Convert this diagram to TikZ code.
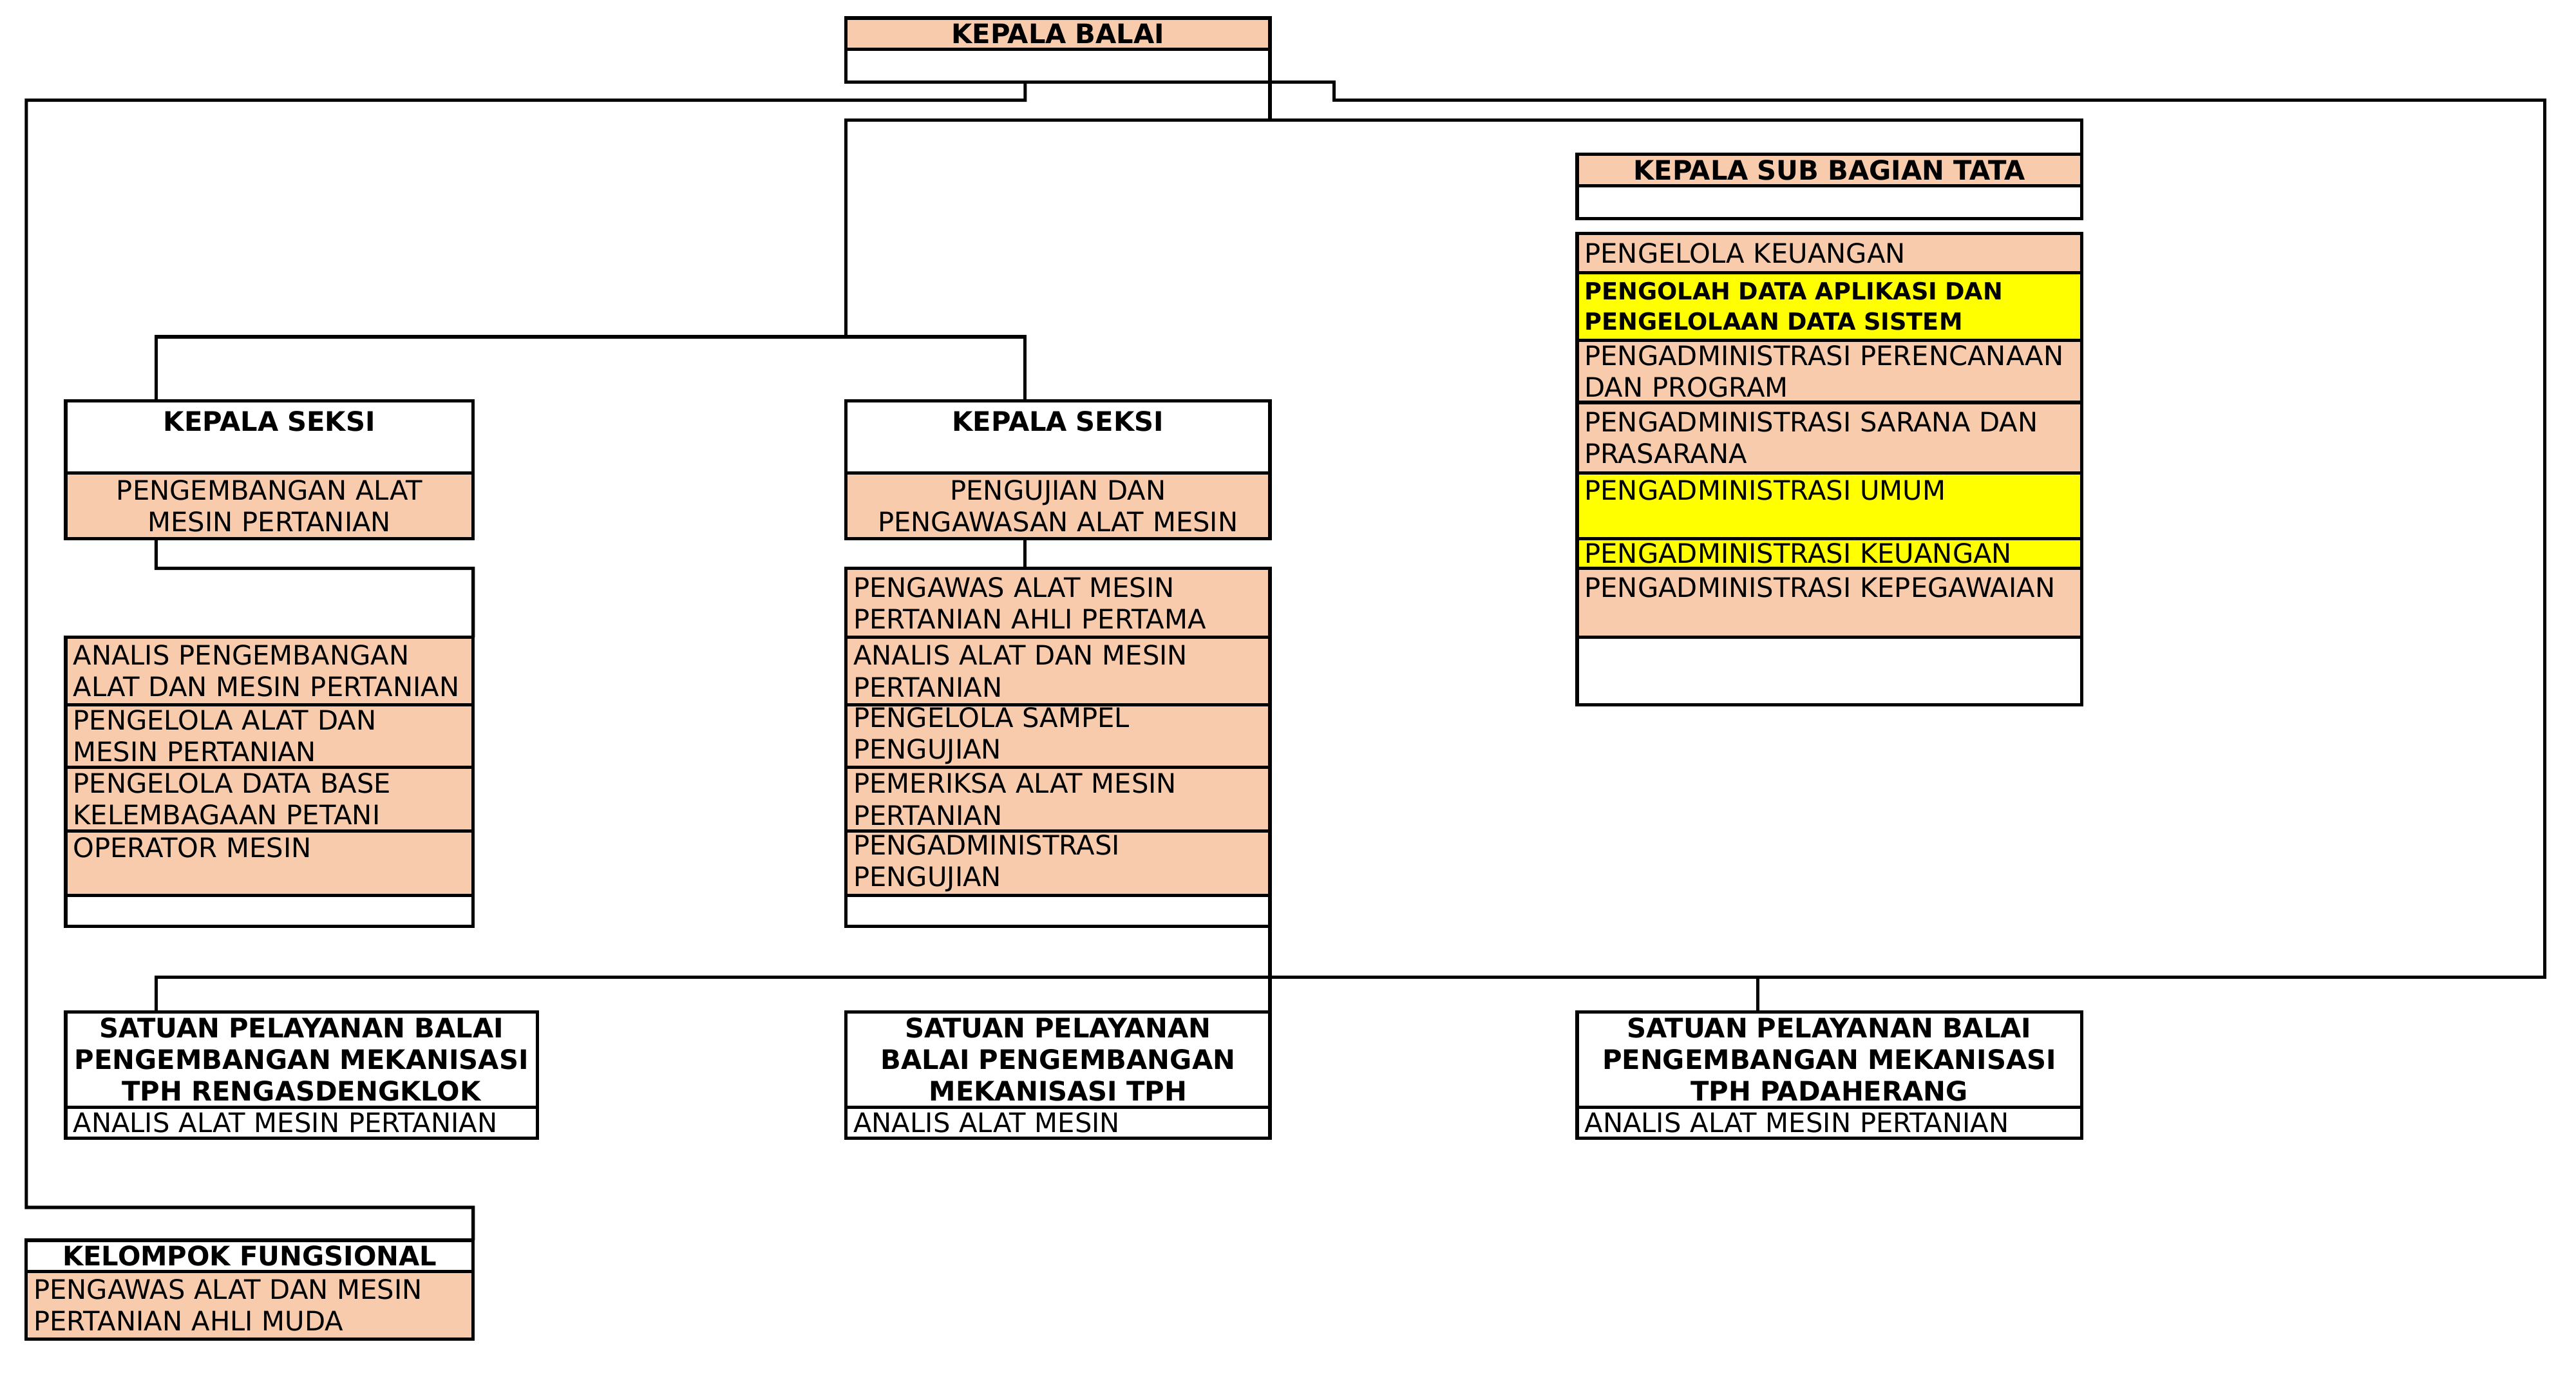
\documentclass[tikz,border=0pt]{standalone}
\usepackage{fontspec}
\setmainfont{DejaVu Sans}
\usepackage{tikz}
\usetikzlibrary{positioning,calc}
\definecolor{peach}{HTML}{F8CBAD}
\definecolor{hilite}{HTML}{FFFF00}
\tikzset{
  cell/.style={draw=black, line width=0.4mm, outer sep=0pt, inner xsep=0.9mm,
    inner ysep=0pt, anchor=north west, align=left,
    font=\fontsize{9.3}{11}\selectfont},
  pcell/.style={cell, fill=peach},
  ycell/.style={cell, fill=hilite},
  wcell/.style={cell, fill=white},
  head/.style={font=\bfseries\fontsize{9.3}{11}\selectfont, align=center},
  rowh/.style={minimum height=#1*0.2mm},
  colA/.style={minimum width=49.6mm, text width=47.8mm},
  colB/.style={minimum width=51.6mm, text width=49.8mm},
  colC/.style={minimum width=61.4mm, text width=59.6mm},
  colS/.style={minimum width=57.4mm, text width=55.6mm},
  colK/.style={minimum width=54.4mm, text width=52.6mm},
  link/.style={draw=black, line width=0.4mm}
}

\begin{document}
\begin{tikzpicture}[x=0.2mm, y=-0.2mm]
  \path[fill=white, use as bounding box] (0,0) rectangle (1568,840);

  % pimpinan
  \node[pcell, colB, rowh=19, head] (balaiT) at (515,11) {KEPALA BALAI};
  \node[wcell, colB, rowh=20, below=0pt of balaiT] (balaiB) {};

  % sub bagian tata usaha
  \node[pcell, colC, rowh=19, head] (subT) at (960,94) {KEPALA SUB BAGIAN TATA};
  \node[wcell, colC, rowh=20, below=0pt of subT] (subB) {};
  \node[pcell, colC, rowh=24] (tu1) at (960,142) {PENGELOLA KEUANGAN};
  \node[ycell, colC, rowh=41, font=\bfseries\fontsize{8.2}{10.5}\selectfont, below=0pt of tu1] (tu2)
    {PENGOLAH DATA APLIKASI DAN\\PENGELOLAAN DATA SISTEM};
  \node[pcell, colC, rowh=38, below=0pt of tu2] (tu3) {PENGADMINISTRASI PERENCANAAN\\DAN PROGRAM};
  \node[pcell, colC, rowh=43, below=0pt of tu3] (tu4) {PENGADMINISTRASI SARANA DAN\\PRASARANA};
  \node[ycell, colC, rowh=40, below=0pt of tu4] (tu5) {PENGADMINISTRASI UMUM\\\mbox{}};
  \node[ycell, colC, rowh=18, below=0pt of tu5] (tu6) {PENGADMINISTRASI KEUANGAN};
  \node[pcell, colC, rowh=42, below=0pt of tu6] (tu7) {PENGADMINISTRASI KEPEGAWAIAN\\\mbox{}};
  \node[wcell, colC, rowh=41, below=0pt of tu7] (tu8) {};

  % seksi pengembangan
  \node[wcell, colA, rowh=44, head] (sekAT) at (40,244) {KEPALA SEKSI\\\mbox{}};
  \node[pcell, colA, rowh=40, align=center, below=0pt of sekAT] (sekAB) {PENGEMBANGAN ALAT\\MESIN PERTANIAN};
  \node[pcell, colA, rowh=41] (lsA1) at (40,388) {ANALIS PENGEMBANGAN\\ALAT DAN MESIN PERTANIAN};
  \node[pcell, colA, rowh=38, below=0pt of lsA1] (lsA2) {PENGELOLA ALAT DAN\\MESIN PERTANIAN};
  \node[pcell, colA, rowh=39, below=0pt of lsA2] (lsA3) {PENGELOLA DATA BASE\\KELEMBAGAAN PETANI};
  \node[pcell, colA, rowh=39, below=0pt of lsA3] (lsA4) {OPERATOR MESIN\\\mbox{}};
  \node[wcell, colA, rowh=19, below=0pt of lsA4] (lsA5) {};

  % seksi pengujian
  \node[wcell, colB, rowh=44, head] (sekBT) at (515,244) {KEPALA SEKSI\\\mbox{}};
  \node[pcell, colB, rowh=40, align=center, below=0pt of sekBT] (sekBB) {PENGUJIAN DAN\\PENGAWASAN ALAT MESIN};
  \node[pcell, colB, rowh=42] (lsB1) at (515,346) {PENGAWAS ALAT MESIN\\PERTANIAN AHLI PERTAMA};
  \node[pcell, colB, rowh=41, below=0pt of lsB1] (lsB2) {ANALIS ALAT DAN MESIN\\PERTANIAN};
  \node[pcell, colB, rowh=38, below=0pt of lsB2] (lsB3) {PENGELOLA SAMPEL\\PENGUJIAN};
  \node[pcell, colB, rowh=39, below=0pt of lsB3] (lsB4) {PEMERIKSA ALAT MESIN\\PERTANIAN};
  \node[pcell, colB, rowh=39, below=0pt of lsB4] (lsB5) {PENGADMINISTRASI\\PENGUJIAN};
  \node[wcell, colB, rowh=19, below=0pt of lsB5] (lsB6) {};

  % satuan pelayanan
  \node[wcell, colS, rowh=58, head] (sat1T) at (40,616)
    {SATUAN PELAYANAN BALAI\\PENGEMBANGAN MEKANISASI\\TPH RENGASDENGKLOK};
  \node[wcell, colS, rowh=19, below=0pt of sat1T] (sat1B) {ANALIS ALAT MESIN PERTANIAN};
  \node[wcell, colB, rowh=58, head] (sat2T) at (515,616)
    {SATUAN PELAYANAN\\BALAI PENGEMBANGAN\\MEKANISASI TPH};
  \node[wcell, colB, rowh=19, below=0pt of sat2T] (sat2B) {ANALIS ALAT MESIN};
  \node[wcell, colC, rowh=58, head] (sat3T) at (960,616)
    {SATUAN PELAYANAN BALAI\\PENGEMBANGAN MEKANISASI\\TPH PADAHERANG};
  \node[wcell, colC, rowh=19, below=0pt of sat3T] (sat3B) {ANALIS ALAT MESIN PERTANIAN};

  % kelompok fungsional
  \node[wcell, colK, rowh=19, head] (kelT) at (16,755) {KELOMPOK FUNGSIONAL};
  \node[pcell, colK, rowh=41, below=0pt of kelT] (kelB) {PENGAWAS ALAT DAN MESIN\\PERTANIAN AHLI MUDA};

  % garis komando
  \coordinate (lftTop) at (16,61);
  \coordinate (lftBot) at (288,735);
  \coordinate (rgtTop) at (812,61);
  \coordinate (rgtBot) at (1549,595);
  \coordinate (midTop) at (515,73);
  \coordinate (midBot) at (515,205);
  \coordinate (lsAk) at (288,346);

  \draw[link] ($(balaiB.south west)+(109,0)$) |- (lftTop) |- (lftBot) -- (kelT.north east);
  \draw[link] (balaiB.south east) -| (rgtTop) -| (rgtBot) -| ($(sat1T.north west)+(55,0)$);
  \draw[link] ($(sat3T.north west)+(110,0)$) |- (rgtBot);
  \draw[link] (lsB6.south east) -- (sat2T.north east);
  \draw[link] (balaiB.south east) |- (midTop) -- (midBot);
  \draw[link] (midTop) -| (subT.north east);
  \draw[link] ($(sekAT.north west)+(55,0)$) |- (midBot) -| ($(sekBT.north west)+(109,0)$);
  \draw[link] ($(sekAB.south west)+(55,0)$) |- (lsAk) -- (lsA1.north east);
  \draw[link] ($(sekBB.south west)+(109,0)$) -- ($(lsB1.north west)+(109,0)$);
\end{tikzpicture}
\end{document}
